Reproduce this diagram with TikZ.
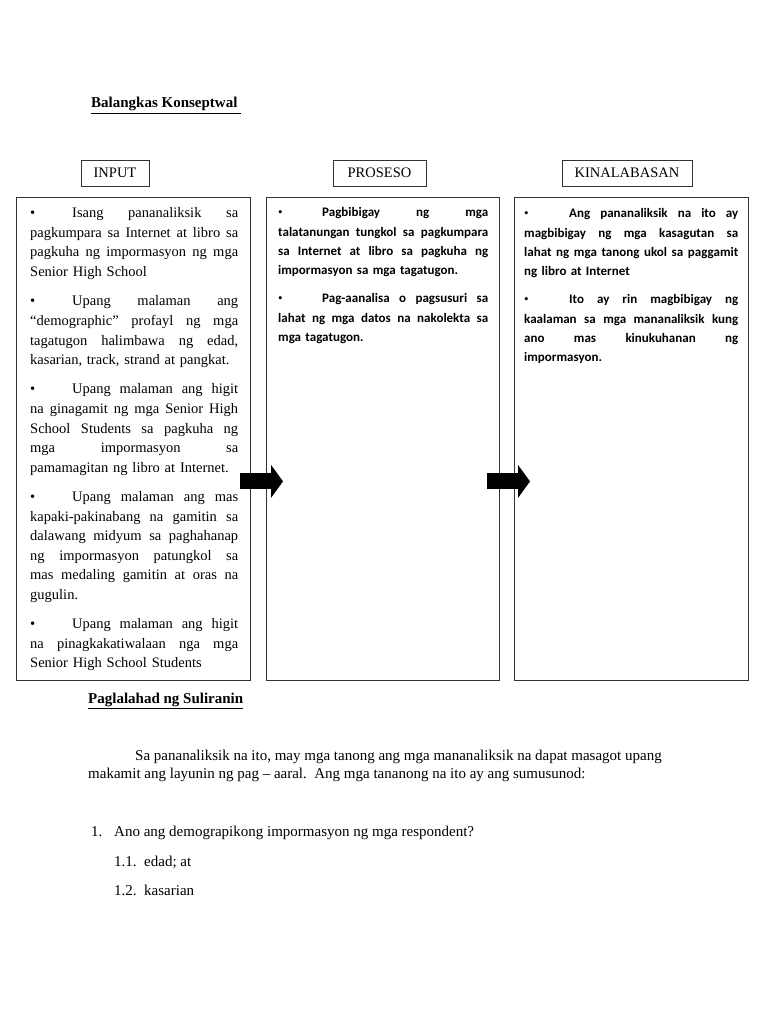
\documentclass[tikz,border=0pt]{standalone}
\usepackage{fontspec}
\setmainfont{Liberation Serif}
\newfontfamily\carlito{Carlito}
\usetikzlibrary{positioning,arrows.meta}

% one justified line, a justified line with a bullet, and the gap between items
\newcommand{\freespace}{\spaceskip=0pt\xspaceskip=0pt\relax}
\newcommand{\jline}[1]{\makebox[\linewidth][s]{\freespace#1}\par}
\newcommand{\bline}[2]{\makebox[\linewidth][s]{\freespace\makebox[#1][l]{\rmfamily\mdseries\textbullet}#2}\par}
\newcommand{\itemgap}{\vspace{10pt}}

\begin{document}
\begin{tikzpicture}[x=1pt,y=-1pt,
			labelbox/.style={draw=black!80, line width=0.8pt, minimum height=26pt, inner sep=0pt, font=\fontsize{14.5}{16}\selectfont},
			bigbox/.style={draw=black!80, line width=0.8pt, anchor=north west, minimum height=483pt, inner sep=0pt},
			serifcol/.style={anchor=base west, inner sep=0pt, text width=208pt, font=\fontsize{14.5}{19.5}\selectfont},
			sanscol/.style={anchor=base west, inner sep=0pt, text width=210pt, font=\carlito\bfseries\fontsize{13}{19.2}\selectfont},
			heading/.style={anchor=base west, inner sep=0pt, font=\bfseries\fontsize{15}{17}\selectfont},
			plain/.style={anchor=base west, inner sep=0pt, font=\fontsize{15}{17}\selectfont},
			blockarrow/.style={line width=16pt, -{Triangle[length=12pt,width=33pt,line width=0pt]}},
		]
		\useasboundingbox (0,0) rectangle (768,1024);
		
			%Nodes
			\node[heading]	(title)		at (91,108)		{\underline{Balangkas Konseptwal\ }};
			
			\node[labelbox, minimum width=68pt]		(inlbl)		at (115,173)	{INPUT};
			\node[labelbox, minimum width=93pt]		(prlbl)		at (379.5,173)	{PROSESO};
			\node[labelbox, minimum width=130pt]	(outlbl)	at (627,173)	{KINALABASAN};
			
			\node[bigbox, minimum width=234pt]	(inbox)		at (16,197)		{};
			\node[bigbox, minimum width=233pt]	(prbox)		at (266,197)	{};
			\node[bigbox, minimum width=234pt]	(outbox)	at (514,197)	{};
			
			\node[serifcol]	(intext)	at (30,218)	{%
				\bline{42pt}{Isang pananaliksik sa}
				\jline{pagkumpara sa Internet at libro sa}
				\jline{pagkuha ng impormasyon ng mga}
				Senior High School\par
				\itemgap
				\bline{42pt}{Upang malaman ang}
				\jline{“demographic” profayl ng mga}
				\jline{tagatugon halimbawa ng edad,}
				kasarian, track, strand at pangkat.\par
				\itemgap
				\bline{42pt}{Upang malaman ang higit}
				\jline{na ginagamit ng mga Senior High}
				\jline{School Students sa pagkuha ng}
				\jline{mga impormasyon sa}
				pamamagitan ng libro at Internet.\par
				\itemgap
				\bline{42pt}{Upang malaman ang mas}
				\jline{kapaki-pakinabang na gamitin sa}
				\jline{dalawang midyum sa paghahanap}
				\jline{ng impormasyon patungkol sa}
				\jline{mas medaling gamitin at oras na}
				gugulin.\par
				\itemgap
				\bline{42pt}{Upang malaman ang higit}
				\jline{na pinagkakatiwalaan nga mga}
				Senior High School Students};
			
			\node[sanscol]	(prtext)	at (278,217)	{%
				\bline{44pt}{Pagbibigay ng mga}
				\jline{talatanungan tungkol sa pagkumpara}
				\jline{sa Internet at libro sa pagkuha ng}
				impormasyon sa mga tagatugon.\par
				\vspace{9pt}
				\bline{44pt}{Pag-aanalisa o pagsusuri sa}
				\jline{lahat ng mga datos na nakolekta sa}
				mga tagatugon.};
			
			\node[sanscol, text width=214pt]	(outtext)	at (524,218)	{%
				\bline{45pt}{Ang pananaliksik na ito ay}
				\jline{magbibigay ng mga kasagutan sa}
				\jline{lahat ng mga tanong ukol sa paggamit}
				ng libro at Internet\par
				\vspace{9pt}
				\bline{45pt}{Ito ay rin magbibigay ng}
				\jline{kaalaman sa mga mananaliksik kung}
				\jline{ano mas kinukuhanan ng}
				impormasyon.};
			
			\node[heading]	(subtitle)	at (88,703)		{\underline{Paglalahad ng Suliranin}};
			\node[plain]	(par1)		at (135,760)	{Sa pananaliksik na ito, may mga tanong ang mga mananaliksik na dapat masagot upang};
			\node[plain]	(par2)		at (88,778)		{makamit ang layunin ng pag – aaral.\ \ Ang mga tananong na ito ay ang sumusunod:};
			\node[plain]	(num1)		at (91,836)		{1.};
			\node[plain]	(q1)		at (114,836)	{Ano ang demograpikong impormasyon ng mga respondent?};
			\node[plain]	(q11)		at (114,866)	{1.1.\ \ edad; at};
			\node[plain]	(q12)		at (114,895)	{1.2.\ \ kasarian};
		
			%Lines
			\draw[blockarrow]	([xshift=-11pt,yshift=-42.5pt]inbox.east) -- ([xshift=17pt,yshift=-42.5pt]prbox.west);
			\draw[blockarrow]	([xshift=-13pt,yshift=-42.5pt]prbox.east) -- ([xshift=16pt,yshift=-42.5pt]outbox.west);
		
		\end{tikzpicture}
\end{document}
